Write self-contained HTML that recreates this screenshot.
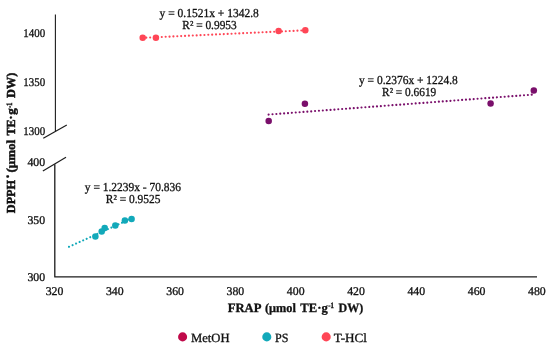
<!DOCTYPE html>
<html><head><meta charset="utf-8"><title>chart</title>
<style>
html,body{margin:0;padding:0;background:#fff;}
svg{display:block;}
text{font-family:"Liberation Serif","Times New Roman",serif;fill:#111;stroke:#111;stroke-width:0.3px;text-rendering:geometricPrecision;}
.t{font-size:11.8px;}
.b{font-weight:bold;stroke-width:0.25px;}
</style></head><body>
<svg width="550" height="348" viewBox="0 0 550 348">
<rect width="550" height="348" fill="#fff"/>

<g stroke="#1c1c1c" fill="none" stroke-linecap="butt">
<line x1="55.4" y1="14.5" x2="55.4" y2="131.6" stroke-width="1.1"/>
<polyline points="54.8,164.2 54.8,276.9 537,276.9" stroke-width="1.3" stroke-linejoin="round"/>
<line x1="43.3" y1="138.3" x2="66.8" y2="125" stroke-width="1.2"/>
<line x1="42.9" y1="171.1" x2="66" y2="157.3" stroke-width="1.2"/>
</g>
<text class="t" x="23.3" y="36.5" textLength="21.9" lengthAdjust="spacingAndGlyphs">1400</text>
<text class="t" x="23.3" y="85.7" textLength="21.9" lengthAdjust="spacingAndGlyphs">1350</text>
<text class="t" x="23.3" y="134.5" textLength="21.9" lengthAdjust="spacingAndGlyphs">1300</text>
<text class="t" x="45.1" y="166.3" text-anchor="end">400</text>
<text class="t" x="45.1" y="223.7" text-anchor="end">350</text>
<text class="t" x="45.1" y="280.7" text-anchor="end">300</text>
<text class="t" x="54.5" y="294.6" text-anchor="middle">320</text>
<text class="t" x="114.8" y="294.6" text-anchor="middle">340</text>
<text class="t" x="175.1" y="294.6" text-anchor="middle">360</text>
<text class="t" x="235.4" y="294.6" text-anchor="middle">380</text>
<text class="t" x="295.7" y="294.6" text-anchor="middle">400</text>
<text class="t" x="356.0" y="294.6" text-anchor="middle">420</text>
<text class="t" x="416.3" y="294.6" text-anchor="middle">440</text>
<text class="t" x="476.6" y="294.6" text-anchor="middle">460</text>
<text class="t" x="536.9" y="294.6" text-anchor="middle">480</text>
<g style="stroke-width:0.3px">
<text class="b" style="font-size:12.6px;stroke-width:inherit" x="227.7" y="311.7" textLength="33.7" lengthAdjust="spacingAndGlyphs">FRAP</text>
<text class="b" style="font-size:12.6px;stroke-width:inherit" x="265.0" y="311.7" textLength="30.9" lengthAdjust="spacingAndGlyphs">(μmol</text>
<text class="b" style="font-size:12.6px;stroke-width:inherit" x="300.3" y="311.7" textLength="27.5" lengthAdjust="spacingAndGlyphs">TE·g</text>
<text class="b" style="font-size:8.2px;stroke-width:inherit" x="328.2" y="307.8" textLength="5.7" lengthAdjust="spacingAndGlyphs">-1</text>
<text class="b" style="font-size:12.6px;stroke-width:inherit" x="338.5" y="311.7" textLength="24.7" lengthAdjust="spacingAndGlyphs">DW)</text>
</g>
<g transform="translate(15.3,213.2) rotate(-90)" style="stroke-width:0.5px">
<text class="b" style="font-size:12.3px;stroke-width:inherit" x="0.0" y="0.0" textLength="33.3" lengthAdjust="spacingAndGlyphs">DPPH</text>
<text class="b" style="font-size:12.3px;stroke-width:inherit" x="40.7" y="0.0" textLength="32.5" lengthAdjust="spacingAndGlyphs">(μmol</text>
<text class="b" style="font-size:12.3px;stroke-width:inherit" x="77.6" y="0.0" textLength="20.0" lengthAdjust="spacingAndGlyphs">TE·</text>
<text class="b" style="font-size:12.3px;stroke-width:inherit" x="98.5" y="0.0" textLength="6.5" lengthAdjust="spacingAndGlyphs">g</text>
<text class="b" style="font-size:8.2px;stroke-width:inherit" x="105.4" y="-3.5" textLength="5.2" lengthAdjust="spacingAndGlyphs">-1</text>
<text class="b" style="font-size:12.3px;stroke-width:inherit" x="115.3" y="0.0" textLength="25.2" lengthAdjust="spacingAndGlyphs">DW)</text>
<text class="b" style="font-size:10px" x="35.0" y="-4.7">•</text>
</g>
<line x1="142.4" y1="37.85" x2="305.3" y2="30.3" stroke="#ff4656" stroke-width="2.15" stroke-linecap="round" stroke-dasharray="0.01 3.87"/>
<line x1="268.64" y1="114.55" x2="534" y2="94.5" stroke="#7a0f6b" stroke-width="2.15" stroke-linecap="round" stroke-dasharray="0.01 3.87"/>
<line x1="69.03" y1="246.77" x2="131.6" y2="218.4" stroke="#12a9ba" stroke-width="2.15" stroke-linecap="round" stroke-dasharray="0.01 3.87"/>
<circle cx="142.7" cy="37.7" r="3.25" fill="#ff4656"/>
<circle cx="155.9" cy="37.7" r="3.25" fill="#ff4656"/>
<circle cx="278.6" cy="31.1" r="3.25" fill="#ff4656"/>
<circle cx="305.3" cy="30.3" r="3.25" fill="#ff4656"/>
<circle cx="268.7" cy="121.1" r="3.25" fill="#7a0f6b"/>
<circle cx="304.9" cy="103.7" r="3.25" fill="#7a0f6b"/>
<circle cx="490.6" cy="103.6" r="3.25" fill="#7a0f6b"/>
<circle cx="533.8" cy="90.6" r="3.25" fill="#7a0f6b"/>
<circle cx="95.4" cy="236.55" r="3.25" fill="#12a9ba"/>
<circle cx="101.7" cy="231.6" r="3.25" fill="#12a9ba"/>
<circle cx="104.7" cy="228.0" r="3.25" fill="#12a9ba"/>
<circle cx="115.3" cy="225.5" r="3.25" fill="#12a9ba"/>
<circle cx="124.9" cy="220.45" r="3.25" fill="#12a9ba"/>
<circle cx="131.6" cy="219.0" r="3.25" fill="#12a9ba"/>
<text class="t" x="159.6" y="17.0" textLength="99.2" lengthAdjust="spacingAndGlyphs" style="font-size:12.2px">y = 0.1521x + 1342.8</text>
<text class="t" x="182.3" y="28.9" textLength="54.4" lengthAdjust="spacingAndGlyphs" style="font-size:12.2px">R² = 0.9953</text>
<text class="t" x="359.0" y="83.6" textLength="98.8" lengthAdjust="spacingAndGlyphs" style="font-size:12.2px">y = 0.2376x + 1224.8</text>
<text class="t" x="382.1" y="95.6" textLength="54.1" lengthAdjust="spacingAndGlyphs" style="font-size:12.2px">R² = 0.6619</text>
<text class="t" x="84.8" y="190.6" textLength="96.2" lengthAdjust="spacingAndGlyphs" style="font-size:12.2px">y = 1.2239x - 70.836</text>
<text class="t" x="105.8" y="202.6" textLength="54.6" lengthAdjust="spacingAndGlyphs" style="font-size:12.2px">R² = 0.9525</text>
<circle cx="182.6" cy="336.9" r="4.55" fill="#c00a4a"/>
<text class="t" style="font-size:12.5px" x="191.0" y="341.5" textLength="38.6" lengthAdjust="spacingAndGlyphs">MetOH</text>
<circle cx="266.8" cy="336.9" r="4.55" fill="#12a9ba"/>
<text class="t" style="font-size:12.5px" x="275.0" y="341.5" textLength="13.4" lengthAdjust="spacingAndGlyphs">PS</text>
<circle cx="326.2" cy="336.9" r="4.55" fill="#ff4656"/>
<text class="t" style="font-size:12.5px" x="333.8" y="341.5" textLength="33.2" lengthAdjust="spacingAndGlyphs">T-HCl</text>
</svg></body></html>
